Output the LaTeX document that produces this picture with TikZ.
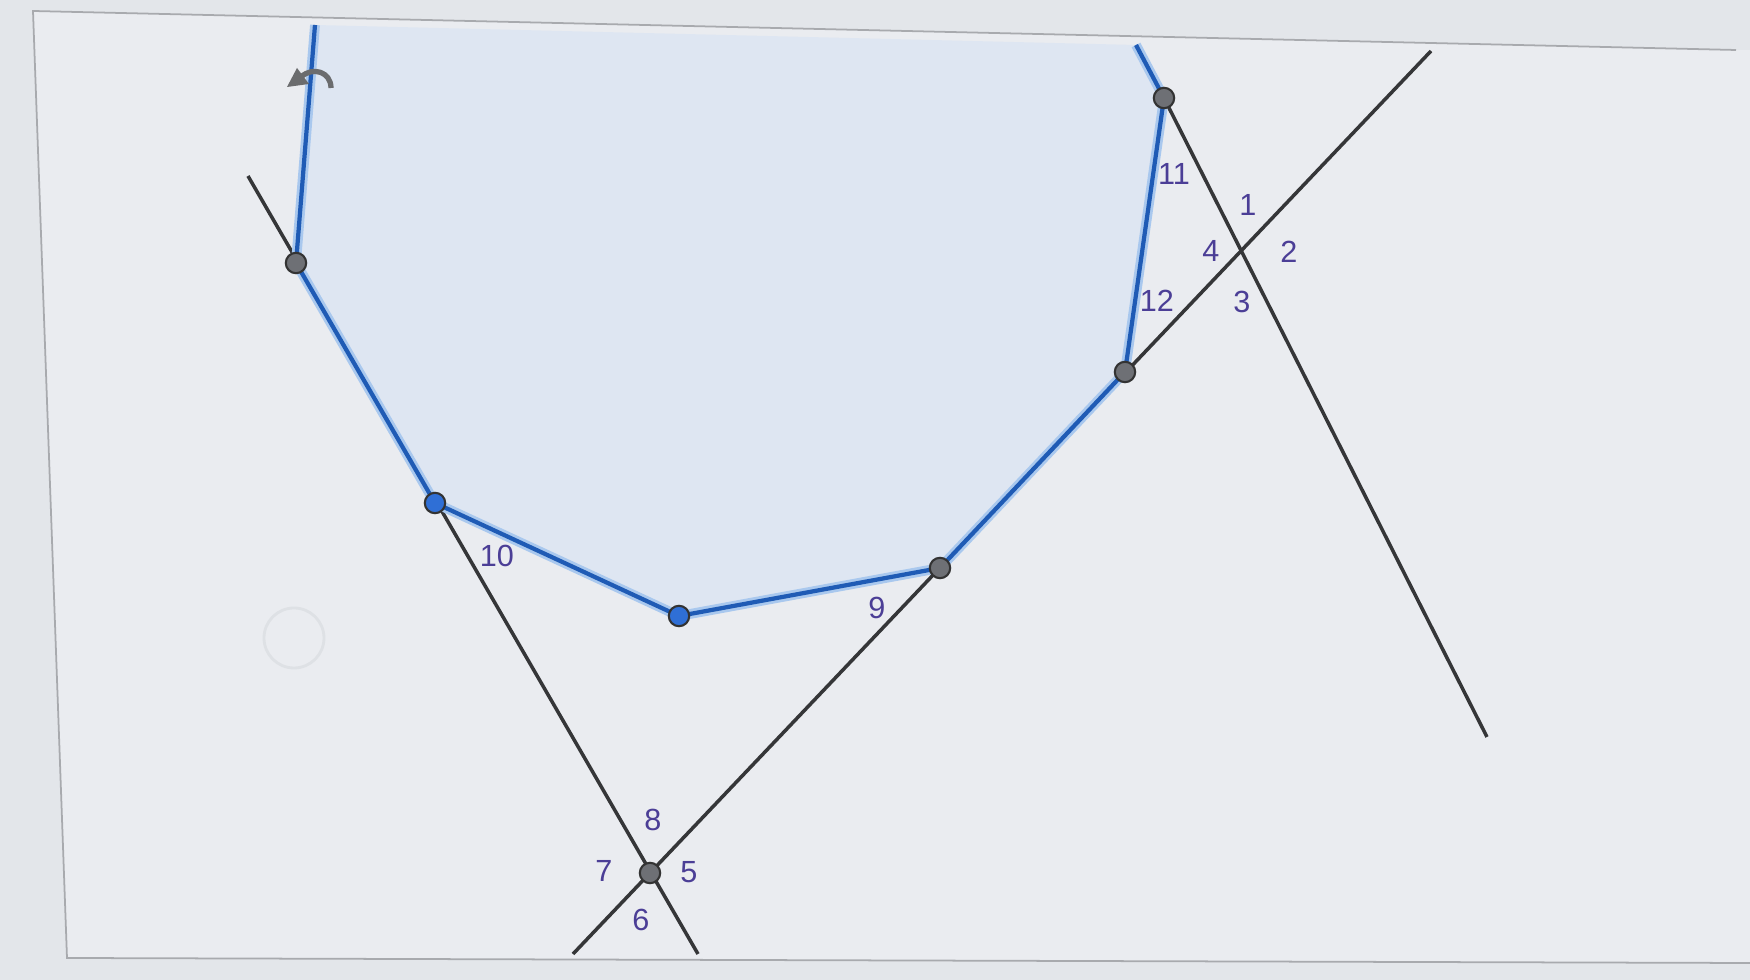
\documentclass[tikz,border=0pt]{standalone}
\usepackage{fontspec}
\setmainfont{Liberation Sans}
\usetikzlibrary{arrows.meta}

\definecolor{screenbg}{HTML}{E3E6EA}
\definecolor{panelbg}{HTML}{EAECF0}
\definecolor{regionfill}{HTML}{DEE6F2}
\definecolor{edgeblue}{HTML}{1F5BB5}
\definecolor{haloblue}{HTML}{A9C8EE}
\definecolor{lineblack}{HTML}{353638}
\definecolor{ptgray}{HTML}{6E7075}
\definecolor{ptblue}{HTML}{2F6FD6}
\definecolor{anglelbl}{HTML}{4B3E96}
\definecolor{framegray}{HTML}{A8AAAE}
\definecolor{undogray}{HTML}{6B6C6E}
\definecolor{faintgray}{HTML}{DEE1E5}

\begin{document}
\begin{tikzpicture}[x=0.01cm, y=-0.01cm,
    every node/.style={font=\fontsize{8.7}{10}\selectfont, text=anglelbl, inner sep=0pt},
    guide/.style={lineblack, line width=1pt},
    halo/.style={haloblue, line width=2.8pt, line join=round},
    edge/.style={edgeblue, line width=1.2pt, line join=round},
    graypt/.style={circle, draw=black!80, fill=ptgray, line width=0.6pt, minimum size=5.8pt},
    bluept/.style={circle, draw=black!80, fill=ptblue, line width=0.6pt, minimum size=5.8pt}]
				% page and screen
				\fill[screenbg] (0,0) rectangle (1750,980);
				\useasboundingbox (0,0) rectangle (1750,980);
				\fill[panelbg] (33,11) -- (1736,50) -- (1750,50) -- (1750,963) -- (67,958) -- cycle;
				\draw[framegray, line width=0.5pt] (1736,50) -- (33,11) -- (67,958) -- (1750,963);

				% vertices and line ends
				\coordinate (ltop) at (315,25);
				\coordinate (rtop) at (1136,45);
				\coordinate (P1) at (296,263);
				\coordinate (P2) at (435,503);
				\coordinate (P3) at (679,616);
				\coordinate (P4) at (940,568);
				\coordinate (P5) at (1125,372);
				\coordinate (P6) at (1164,98);
				\coordinate (Y) at (650,873);
				\coordinate (aend) at (248,176);
				\coordinate (aend2) at (698,954);
				\coordinate (bend) at (573,954);
				\coordinate (bend2) at (1431,51);
				\coordinate (cend) at (1487,737);

				% shaded region
				\fill[regionfill] (ltop) -- (P1) -- (P2) -- (P3) -- (P4) -- (P5) -- (P6) -- (rtop) -- cycle;

				% lines
				\draw[guide] (aend) -- (aend2);
				\draw[guide] (bend) -- (bend2);
				\draw[guide] (P6) -- (cend);

				% polygon edges
				\draw[halo] (ltop) -- (P1) -- (P2) -- (P3) -- (P4) -- (P5) -- (P6) -- (rtop);
				\draw[edge] (ltop) -- (P1) -- (P2) -- (P3) -- (P4) -- (P5) -- (P6) -- (rtop);

				% points
				\node[graypt] (p1dot) at (P1) {};
				\node[bluept] (p2dot) at (P2) {};
				\node[bluept] (p3dot) at (P3) {};
				\node[graypt] (p4dot) at (P4) {};
				\node[graypt] (p5dot) at (P5) {};
				\node[graypt] (p6dot) at (P6) {};
				\node[graypt] (ydot) at (Y) {};

				% angle numbers
				\node (n1) at (1248,205) {1};
				\node (n2) at (1289,252) {2};
				\node (n3) at (1242,302) {3};
				\node (n4) at (1211,251) {4};
				\node (n5) at (689,872) {5};
				\node (n6) at (641,920) {6};
				\node (n7) at (604,871) {7};
				\node (n8) at (653,820) {8};
				\node (n9) at (877,608) {9};
				\node (n10) at (497,556) {10};
				\node (n11) at (1174,174) {11};
				\node (n12) at (1157,301) {12};

				% undo icon and faint ring
				\draw[undogray, line width=1.5pt] (331,88) .. controls (331,72) and (313,66) .. (301,77);
				\fill[undogray] (287,87) -- (297,68) -- (309,84) -- cycle;
				\draw[faintgray, line width=0.8pt] (294,638) circle[radius=30];
			\end{tikzpicture}
\end{document}
